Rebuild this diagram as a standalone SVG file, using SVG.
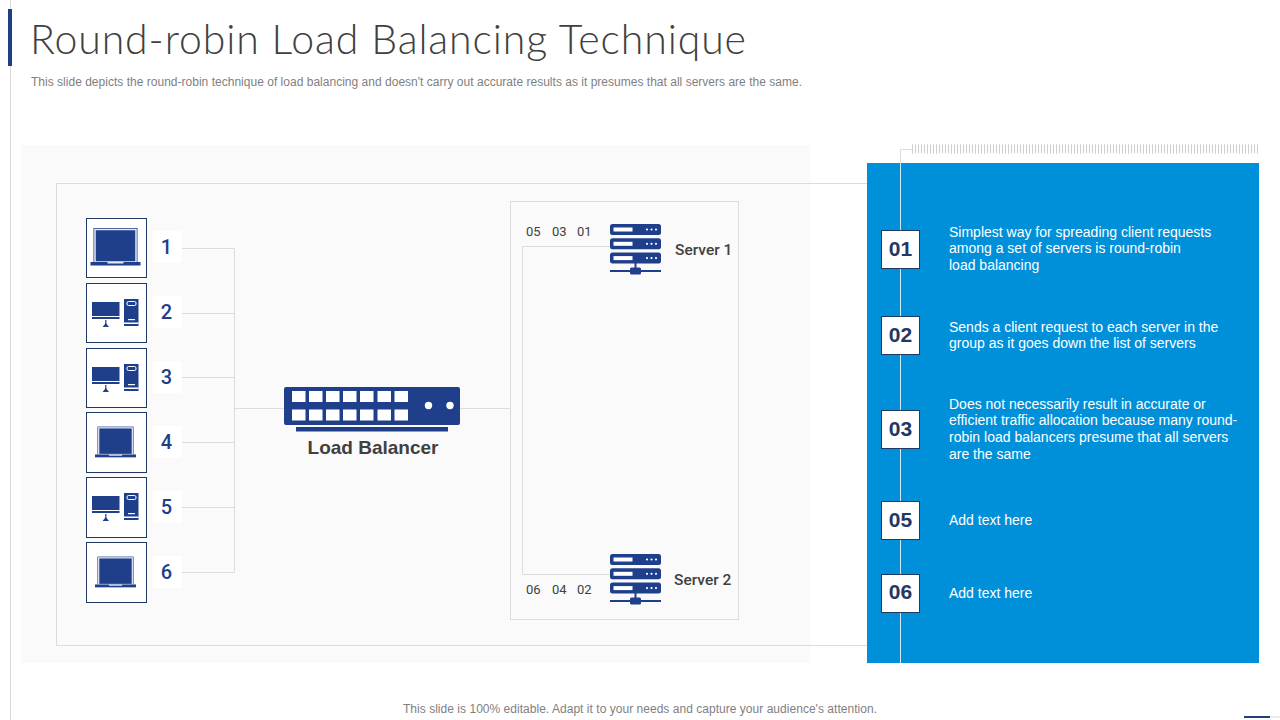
<svg xmlns="http://www.w3.org/2000/svg" width="1280" height="720" viewBox="0 0 1280 720">
<style>
text{font-family:"Liberation Sans",Arial,sans-serif}
.wire{fill:none;stroke:#dcdcdc;stroke-width:1}
.card{fill:#fff;stroke:#1f3864;stroke-width:1}
.ink{fill:#1f3f8a}
.pale{fill:#fff}
.num{font-family:Roboto,"Liberation Sans",sans-serif;font-size:20px;font-weight:500;fill:#1f3f8a;text-anchor:middle}
.sq{font-size:21px;font-weight:700;fill:#1f3864;text-anchor:middle}
.body{font-size:14px;fill:#fff}
.srv{font-family:Roboto,"Liberation Sans",sans-serif;font-size:15.500px;font-weight:500;fill:#404040}
.ord{font-family:Roboto,"Liberation Sans",sans-serif;font-size:13px;fill:#404040}
</style>
<defs>
<g id="laptop">
<rect x="-22" y="-20" width="44" height="34" class="ink"/>
<rect x="-20.500" y="-18.500" width="41" height="32.500" fill="none" stroke="#e6ecf7" stroke-width="1.500"/>
<rect x="-25" y="14" width="50" height="3.500" class="ink"/>
<rect x="-8" y="14" width="16" height="1.500" fill="#e6ecf7"/>
</g>
<g id="desktop">
<rect x="-40" y="-12" width="27.500" height="14" class="ink"/>
<rect x="-40" y="3" width="27.500" height="2" class="ink"/>
<rect x="-26.800" y="6" width="1.200" height="6" class="ink"/>
<path d="M-26.200 9L-23 13H-29.400Z" class="ink"/>
<rect x="-8" y="-15" width="14.500" height="27" class="ink"/>
<rect x="-5" y="-12.500" width="9" height="4" rx="1.500" fill="#1f3f8a" stroke="#fff" stroke-width="1"/>
<rect x="-4" y="5" width="7" height="1.200" class="pale"/>
<rect x="-8" y="8.500" width="14.500" height="1.500" class="pale"/>
</g>
<g id="rack">
<rect x="0" y="0" width="51" height="11" rx="2.500" class="ink"/>
<rect x="3.500" y="3.500" width="19" height="4" class="pale"/>
<circle cx="37" cy="5.500" r="1.100" class="pale"/><circle cx="41.500" cy="5.500" r="1.100" class="pale"/><circle cx="46" cy="5.500" r="1.100" class="pale"/>
<rect x="0" y="14.300" width="51" height="11" rx="2.500" class="ink"/>
<rect x="3.500" y="17.800" width="19" height="4" class="pale"/>
<circle cx="37" cy="19.800" r="1.100" class="pale"/><circle cx="41.500" cy="19.800" r="1.100" class="pale"/><circle cx="46" cy="19.800" r="1.100" class="pale"/>
<rect x="0" y="28.600" width="51" height="11" rx="2.500" class="ink"/>
<rect x="3.500" y="32.100" width="19" height="4" class="pale"/>
<circle cx="37" cy="34.100" r="1.100" class="pale"/><circle cx="41.500" cy="34.100" r="1.100" class="pale"/><circle cx="46" cy="34.100" r="1.100" class="pale"/>
<rect x="24.500" y="39" width="2" height="6" class="ink"/>
<rect x="0" y="46" width="51" height="2" class="ink"/>
<rect x="20" y="43.500" width="11" height="7" rx="1.500" class="ink"/>
</g>
</defs>

<rect x="0" y="0" width="1280" height="720" fill="#fff"/>
<line x1="10.500" y1="0" x2="10.500" y2="720" stroke="#d9d9d9" stroke-width="1"/>
<rect x="8" y="9" width="4" height="57" fill="#1f3f7f"/>

<text x="30" y="54" font-size="41" fill="#404040" textLength="716" lengthAdjust="spacing" style="font-family:Lato,'Liberation Sans',sans-serif;font-weight:300">Round-robin Load Balancing Technique</text>
<text x="31" y="86" font-size="12" fill="#7f7f7f" textLength="771" lengthAdjust="spacing">This slide depicts the round-robin technique of load balancing and doesn't carry out accurate results as it presumes that all servers are the same.</text>

<rect x="21" y="145" width="789" height="518" fill="#fafafa"/>
<rect x="867" y="163" width="392" height="500" fill="#0090da"/>

<g id="connectors">
<path class="wire" d="M867 183.500H56.500V645.500H867"/>
<path d="M900.500 163V149.500H912" fill="none" stroke="#dcdcdc" stroke-width="1"/>
<line x1="900.500" y1="163" x2="900.500" y2="663" stroke="#cfe9f8" stroke-width="1"/>
<line x1="912" y1="149" x2="1258" y2="149" stroke="#cccccc" stroke-width="9" stroke-dasharray="1 2"/>
<path class="wire" d="M181 248.500H234.500V572.500H181M181 313.500H234.500M181 377.500H234.500M181 442.500H234.500M181 507.500H234.500M234.500 408.500H510M610 246.500H522.500V574.500H610"/>
</g>

<rect x="510.500" y="201.500" width="228" height="418" fill="none" stroke="#dcdcdc"/>

<g id="client-1"><rect class="card" x="86.500" y="218.500" width="60" height="59"/><use href="#laptop" transform="translate(115.500 248)"/><rect x="152" y="231" width="30" height="32" fill="#fff"/><text class="num" x="166.500" y="254">1</text></g>
<g id="client-2"><rect class="card" x="86.500" y="283.500" width="60" height="59"/><use href="#desktop" transform="translate(132 314)"/><rect x="152" y="296" width="30" height="32" fill="#fff"/><text class="num" x="166.500" y="319">2</text></g>
<g id="client-3"><rect class="card" x="86.500" y="348.500" width="60" height="59"/><use href="#desktop" transform="translate(132 379)"/><rect x="152" y="361" width="30" height="32" fill="#fff"/><text class="num" x="166.500" y="384">3</text></g>
<g id="client-4"><rect class="card" x="86.500" y="412.500" width="60" height="60"/><use href="#laptop" transform="translate(115.500 443) scale(0.820)"/><rect x="152" y="426" width="30" height="32" fill="#fff"/><text class="num" x="166.500" y="449">4</text></g>
<g id="client-5"><rect class="card" x="86.500" y="477.500" width="60" height="60"/><use href="#desktop" transform="translate(132 508)"/><rect x="152" y="491" width="30" height="32" fill="#fff"/><text class="num" x="166.500" y="514">5</text></g>
<g id="client-6"><rect class="card" x="86.500" y="542.500" width="60" height="60"/><use href="#laptop" transform="translate(115.500 573) scale(0.820)"/><rect x="152" y="556" width="30" height="32" fill="#fff"/><text class="num" x="166.500" y="579">6</text></g>

<g id="load-balancer">
<rect x="284" y="387" width="176" height="38" rx="2" class="ink"/>
<g class="pale">
<rect x="292" y="391" width="13.500" height="11"/><rect x="309" y="391" width="13.500" height="11"/><rect x="326" y="391" width="13.500" height="11"/><rect x="343" y="391" width="13.500" height="11"/><rect x="360" y="391" width="13.500" height="11"/><rect x="377.500" y="391" width="13.500" height="11"/><rect x="394.500" y="391" width="13.500" height="11"/>
<rect x="292" y="409.500" width="13.500" height="11"/><rect x="309" y="409.500" width="13.500" height="11"/><rect x="326" y="409.500" width="13.500" height="11"/><rect x="343" y="409.500" width="13.500" height="11"/><rect x="360" y="409.500" width="13.500" height="11"/><rect x="377.500" y="409.500" width="13.500" height="11"/><rect x="394.500" y="409.500" width="13.500" height="11"/>
<circle cx="428.500" cy="405.500" r="3.700"/><circle cx="450" cy="405.500" r="3.700"/>
</g>
<rect x="296" y="427" width="152" height="4.500" class="ink"/>
<text x="373" y="454" font-size="19" font-weight="700" fill="#404040" text-anchor="middle">Load Balancer</text>
</g>

<g id="server-1">
<use href="#rack" transform="translate(610 224)"/>
<text class="srv" x="675" y="255">Server 1</text>
<text class="ord" x="526" y="236">05</text><text class="ord" x="552" y="236">03</text><text class="ord" x="577" y="236">01</text>
</g>
<g id="server-2">
<use href="#rack" transform="translate(610 554)"/>
<text class="srv" x="674" y="585">Server 2</text>
<text class="ord" x="526" y="594">06</text><text class="ord" x="552" y="594">04</text><text class="ord" x="577" y="594">02</text>
</g>

<g id="item-01"><rect class="card" x="881.500" y="230.500" width="38" height="38"/><text class="sq" x="900.500" y="256">01</text>
<text class="body" x="949" y="237">Simplest way for spreading client requests</text><text class="body" x="949" y="253">among a set of servers is round-robin</text><text class="body" x="949" y="270">load balancing</text></g>
<g id="item-02"><rect class="card" x="881.500" y="316.500" width="38" height="38"/><text class="sq" x="900.500" y="342">02</text>
<text class="body" x="949" y="332">Sends a client request to each server in the</text><text class="body" x="949" y="348">group as it goes down the list of servers</text></g>
<g id="item-03"><rect class="card" x="881.500" y="410.500" width="38" height="38"/><text class="sq" x="900.500" y="436">03</text>
<text class="body" x="949" y="409">Does not necessarily result in accurate or</text><text class="body" x="949" y="425">efficient traffic allocation because many round-</text><text class="body" x="949" y="442">robin load balancers presume that all servers</text><text class="body" x="949" y="459">are the same</text></g>
<g id="item-05"><rect class="card" x="881.500" y="501.500" width="38" height="38"/><text class="sq" x="900.500" y="527">05</text>
<text class="body" x="949" y="525">Add text here</text></g>
<g id="item-06"><rect class="card" x="881.500" y="574.500" width="38" height="38"/><text class="sq" x="900.500" y="599">06</text>
<text class="body" x="949" y="598">Add text here</text></g>

<text x="640" y="713" font-size="12" fill="#7f7f7f" text-anchor="middle" textLength="474" lengthAdjust="spacing">This slide is 100% editable. Adapt it to your needs and capture your audience's attention.</text>
<rect x="1244" y="716" width="26" height="2" fill="#1f3f7f"/>
<line x1="1270" y1="717" x2="1280" y2="717" stroke="#d9d9d9"/>
</svg>
